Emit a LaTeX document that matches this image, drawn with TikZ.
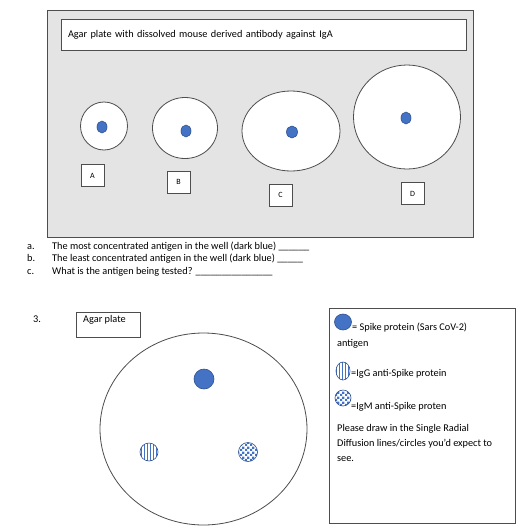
\documentclass[tikz,border=0pt]{standalone}
\usepackage{fontspec}
\setmainfont{Carlito}
\usetikzlibrary{shapes.geometric,patterns}
\definecolor{plategray}{HTML}{E4E4E4}
\definecolor{spikeblue}{HTML}{4472C4}
\definecolor{spikeedge}{HTML}{2F528F}
\definecolor{rimgray}{HTML}{4D4D4D}
\pgfdeclarepatternformonly{finechecks}{\pgfpointorigin}{\pgfqpoint{5pt}{5pt}}{\pgfqpoint{5pt}{5pt}}{
	\pgfpathrectangle{\pgfpointorigin}{\pgfqpoint{2.5pt}{2.5pt}}
	\pgfpathrectangle{\pgfqpoint{2.5pt}{2.5pt}}{\pgfqpoint{2.5pt}{2.5pt}}
	\pgfusepath{fill}}
\pgfdeclarepatternformonly{finestripes}{\pgfqpoint{-1pt}{-1pt}}{\pgfqpoint{1pt}{4pt}}{\pgfqpoint{3pt}{3pt}}{
	\pgfsetlinewidth{0.45pt}
	\pgfpathmoveto{\pgfqpoint{0pt}{-0.1pt}}
	\pgfpathlineto{\pgfqpoint{0pt}{3.1pt}}
	\pgfusepath{stroke}}
\begin{document}
\begin{tikzpicture}[x=1pt,y=-1pt,
	every node/.style={font=\fontsize{10.3}{12}\selectfont},
	txt/.style={anchor=base west,inner sep=0pt},
	well/.style={draw=rimgray,fill=white,ellipse,inner sep=0pt,line width=0.8pt},
	spot/.style={draw=spikeedge,fill=spikeblue,ellipse,inner sep=0pt,line width=0.6pt},
	striped/.style={draw=spikeedge,line width=0.6pt,pattern=finestripes,pattern color=spikeblue,inner sep=0pt},
	checked/.style={draw=spikeedge,line width=0.6pt,pattern=finechecks,pattern color=spikeblue,inner sep=0pt},
	tag/.style={draw=rimgray,fill=white,minimum width=23pt,minimum height=22pt,inner sep=0pt,line width=0.8pt,font=\fontsize{8}{9}\selectfont},
	frame/.style={draw=rimgray,inner sep=0pt,line width=0.8pt}
	]
	\useasboundingbox (0,0) rectangle (529,531);
	% plate with the four wells
	\node	(plate) at (260,123.5) [frame, fill=plategray, minimum width=426pt, minimum height=227pt] {};
	\node	(title) at (263.5,34.5) [frame, fill=white, minimum width=405pt, minimum height=31pt, text width=391pt, align=left] {Agar plate with dissolved mouse derived antibody against IgA};
	\node	(wellA) at (104,126) [well, minimum width=47pt, minimum height=48pt] {};
	\node	(wellB) at (185,128) [well, minimum width=65pt, minimum height=61pt] {};
	\node	(wellC) at (291,131) [well, minimum width=98pt, minimum height=80pt] {};
	\node	(wellD) at (407,117) [well, minimum width=107pt, minimum height=104pt] {};
	\node	(spotA) at (102,127) [spot, minimum width=10pt, minimum height=12pt] {};
	\node	(spotB) at (186,131) [spot, minimum width=10pt, minimum height=12pt] {};
	\node	(spotC) at (292,132) [spot, minimum width=11pt, minimum height=12pt] {};
	\node	(spotD) at (406,118) [spot, minimum width=10pt, minimum height=12pt] {};
	\node	(tagA) at (92.5,175.5) [tag] {A};
	\node	(tagB) at (178.5,182) [tag] {B};
	\node	(tagC) at (280.5,195) [tag] {C};
	\node	(tagD) at (412.5,193.5) [tag] {D};
	% questions
	\node	(qa) at (27,249) [txt] {a.};
	\node	(qatext) at (52,249) [txt] {The most concentrated antigen in the well (dark blue) \_\_\_\_\_\_};
	\node	(qb) at (27,261.5) [txt] {b.};
	\node	(qbtext) at (52,261.5) [txt] {The least concentrated antigen in the well (dark blue) \_\_\_\_\_};
	\node	(qc) at (27,274) [txt] {c.};
	\node	(qctext) at (52,274) [txt] {What is the antigen being tested? \_\_\_\_\_\_\_\_\_\_\_\_\_\_\_};
	% part 3
	\node	(num) at (33,322) [txt] {3.};
	\node	(agarbox) at (108,324.5) [frame, minimum width=64pt, minimum height=25pt] {};
	\node	(agartext) at (83,322) [txt] {Agar plate};
	\node	(dish) at (203.5,429) [well, minimum width=207pt, minimum height=192pt] {};
	\node	(spike) at (204,379) [spot, minimum width=20pt, minimum height=20pt] {};
	\node	(igg) at (149,452) [striped, circle, minimum size=18pt] {};
	\node	(igm) at (248,452) [checked, circle, minimum size=19pt] {};
	% legend
	\node	(legend) at (422,415.5) [frame, minimum width=186pt, minimum height=215pt] {};
	\node	(keyspike) at (343,322) [spot, minimum width=17pt, minimum height=16pt] {};
	\node	(keyigg) at (343,371) [striped, ellipse, minimum width=14pt, minimum height=18pt] {};
	\node	(keyigm) at (343,398) [checked, circle, minimum size=16pt] {};
	\node	(spiketext) at (352,330) [txt] {= Spike protein (Sars CoV-2)};
	\node	(spiketext2) at (337,346.5) [txt] {antigen};
	\node	(iggtext) at (351,376) [txt] {=IgG anti-Spike protein};
	\node	(igmtext) at (351,409) [txt] {=IgM anti-Spike proten};
	\node	(note1) at (337,431) [txt] {Please draw in the Single Radial};
	\node	(note2) at (337,446) [txt] {Diffusion lines/circles you'd expect to};
	\node	(note3) at (337,461) [txt] {see.};
\end{tikzpicture}
\end{document}
